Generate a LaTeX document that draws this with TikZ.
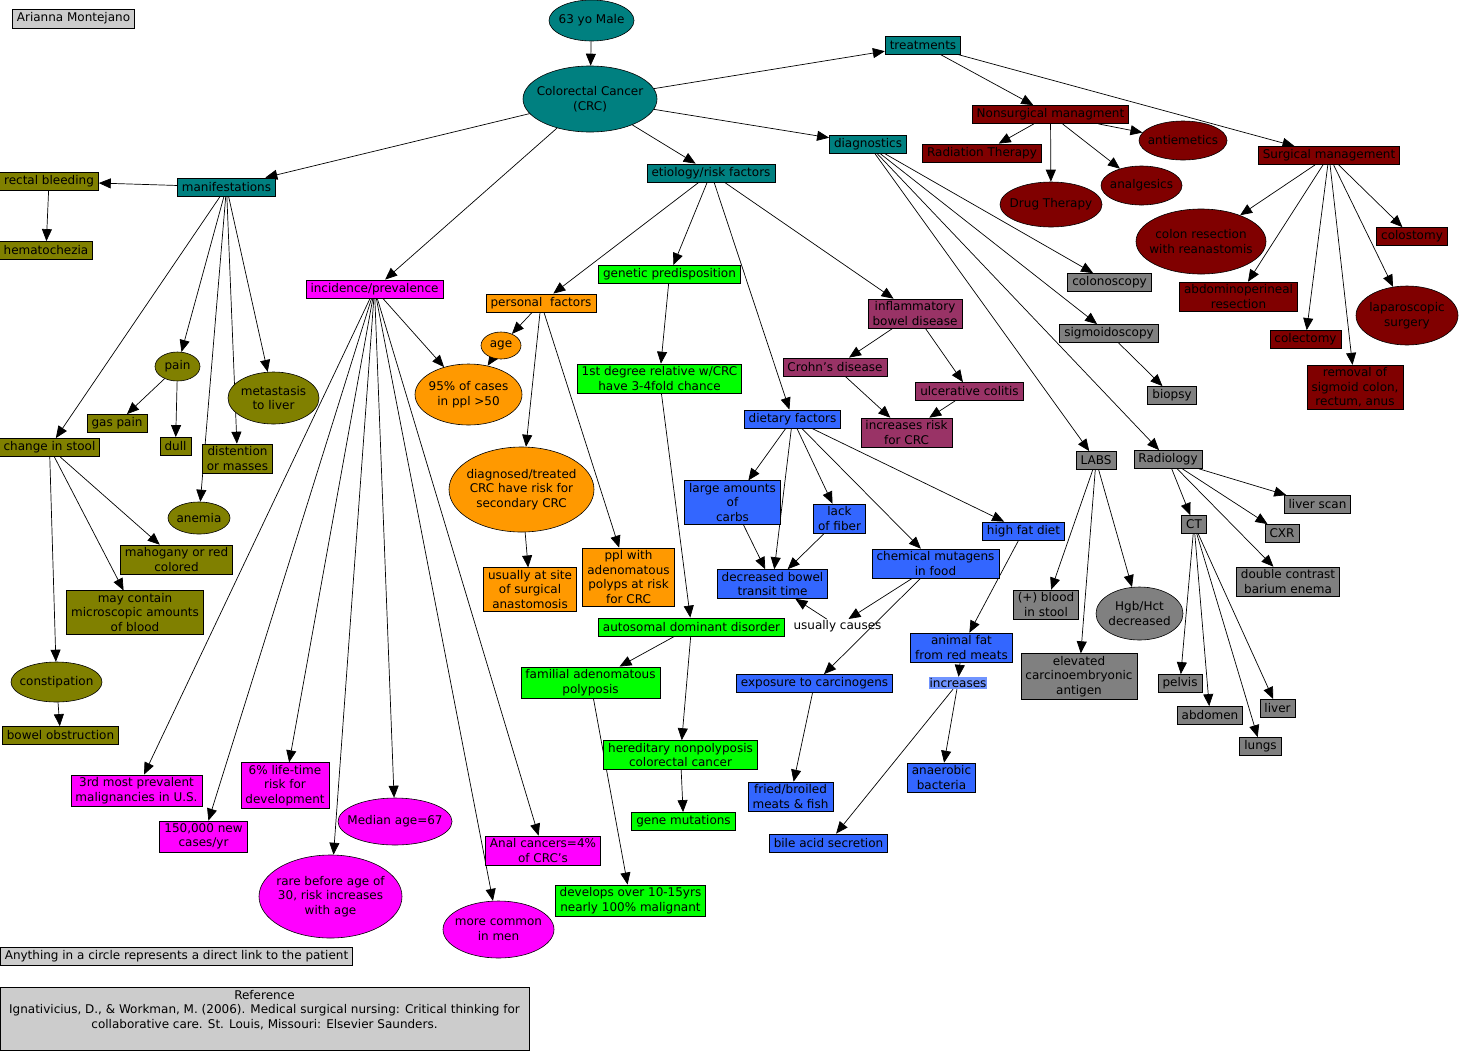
\documentclass[tikz,border=0pt]{standalone}
\usepackage{fontspec}
\setmainfont{DejaVu Sans}
\definecolor{cmteal}{RGB}{0,128,128}
\definecolor{cmolive}{RGB}{128,128,0}
\definecolor{cmmagenta}{RGB}{255,0,255}
\definecolor{cmorange}{RGB}{255,153,0}
\definecolor{cmgreen}{RGB}{0,255,0}
\definecolor{cmplum}{RGB}{153,51,102}
\definecolor{cmblue}{RGB}{51,102,255}
\definecolor{cmdarkred}{RGB}{128,0,0}
\definecolor{cmgray}{RGB}{128,128,128}
\definecolor{cmnote}{RGB}{204,204,204}
\usetikzlibrary{arrows.meta,shapes.geometric}
\pgfdeclarelayer{background}
\pgfsetlayers{background,main}

\tikzset{
  box/.style={draw=black, line width=0.8pt, rectangle, inner xsep=4.5pt, inner ysep=2.5pt,
    minimum height=18pt, align=center, font=\fontsize{12}{14.5}\selectfont},
  oval/.style={draw=black, line width=0.6pt, ellipse, inner sep=-10pt, align=center,
    font=\fontsize{12}{14.5}\selectfont},
  link/.style={-{Triangle[length=12pt,width=10pt]}, line width=0.7pt, black},
}

\begin{document}
\begin{tikzpicture}[x=1pt,y=-1pt]
  \useasboundingbox (0,0) rectangle (1461,1053);

  % Author and notes
  \node[box, fill=cmnote, minimum height=19pt] (author) at (73.5,18.5) {Arianna Montejano};
  \node[box, fill=cmnote, minimum height=18pt] (circnote) at (176.5,956) {Anything in a circle represents a direct link to the patient};
  \node[box, fill=cmnote, minimum width=529pt, minimum height=63pt] (refbox) at (264.5,1018.5) {};
  \node[anchor=north, align=center, inner sep=0pt, font=\fontsize{12}{14.5}\selectfont] (reftext) at ([yshift=-3.5pt]refbox.north)
    {Reference\\Ignativicius, D., \& Workman, M. (2006). Medical surgical nursing: Critical thinking for\\collaborative care. St. Louis, Missouri: Elsevier Saunders.};

  % Core
  \node[oval, fill=cmteal, minimum width=85pt, minimum height=41pt] (male) at (591.5,20.5) {63 yo Male};
  \node[oval, fill=cmteal, minimum width=134pt, minimum height=66pt] (crc) at (590,99) {Colorectal Cancer\\(CRC)};
  \node[box, fill=cmteal] (treat) at (923,45) {treatments};
  \node[box, fill=cmteal] (diag) at (868,144) {diagnostics};
  \node[box, fill=cmteal] (etio) at (711,173) {etiology/risk factors};
  \node[box, fill=cmteal] (manif) at (226.5,187) {manifestations};
  \node[box, fill=cmmagenta] (incid) at (374.5,289) {incidence/prevalence};

  % Manifestations
  \node[box, fill=cmolive] (rectal) at (49,181.5) {rectal bleeding};
  \node[box, fill=cmolive] (hemato) at (46,250.5) {hematochezia};
  \node[oval, fill=cmolive, minimum width=45pt, minimum height=29pt] (pain) at (177.5,366.5) {pain};
  \node[box, fill=cmolive] (gas) at (117,423.5) {gas pain};
  \node[box, fill=cmolive] (dull) at (175.5,446.5) {dull};
  \node[oval, fill=cmolive, minimum width=91pt, minimum height=52pt] (metast) at (273.5,398) {metastasis\\to liver};
  \node[box, fill=cmolive] (disten) at (237.5,458.5) {distention\\or masses};
  \node[oval, fill=cmolive, minimum width=62pt, minimum height=32pt] (anemia) at (199,518) {anemia};
  \node[box, fill=cmolive] (stool) at (49.5,447.5) {change in stool};
  \node[box, fill=cmolive] (mahog) at (176.5,559.5) {mahogany or red\\colored};
  \node[box, fill=cmolive] (micro) at (135,612.5) {may contain\\microscopic amounts\\of blood};
  \node[oval, fill=cmolive, minimum width=91pt, minimum height=40pt] (constip) at (56.5,682) {constipation};
  \node[box, fill=cmolive] (obstr) at (60.5,735.5) {bowel obstruction};

  % Incidence/prevalence
  \node[box, fill=cmmagenta] (third) at (136.5,790.5) {3rd most prevalent\\malignancies in U.S.};
  \node[box, fill=cmmagenta] (newcases) at (203.5,836.5) {150,000 new\\cases/yr};
  \node[box, fill=cmmagenta] (sixpct) at (285,785.5) {6\% life-time\\risk for\\development};
  \node[oval, fill=cmmagenta, minimum width=114pt, minimum height=47pt] (median) at (395,821.5) {Median age=67};
  \node[oval, fill=cmmagenta, minimum width=143pt, minimum height=83pt] (rare) at (330.5,896.5) {rare before age of\\30, risk increases\\with age};
  \node[box, fill=cmmagenta] (anal) at (543,850.5) {Anal cancers=4\%\\of CRC's};
  \node[oval, fill=cmmagenta, minimum width=111pt, minimum height=57pt] (men) at (498.5,929.5) {more common\\in men};

  % Personal factors
  \node[box, fill=cmorange] (personal) at (541,303) {personal~ factors};
  \node[oval, fill=cmorange, minimum width=40pt, minimum height=27pt] (age) at (501,345.5) {age};
  \node[oval, fill=cmorange, minimum width=107pt, minimum height=61pt] (ninety) at (468.5,394.5) {95\% of cases\\in ppl >50};
  \node[oval, fill=cmorange, minimum width=145pt, minimum height=85pt] (treated) at (521.5,489.5) {diagnosed/treated\\CRC have risk for\\secondary CRC};
  \node[box, fill=cmorange] (site) at (530,589.5) {usually at site\\of surgical\\anastomosis};
  \node[box, fill=cmorange] (polyps) at (628.5,577) {ppl with\\adenomatous\\polyps at risk\\for CRC};

  % Genetic predisposition
  \node[box, fill=cmgreen] (genetic) at (669.5,274.5) {genetic predisposition};
  \node[box, fill=cmgreen] (firstdeg) at (659.5,378.5) {1st degree relative w/CRC\\have 3-4fold chance};
  \node[box, fill=cmgreen] (autodom) at (691.5,627) {autosomal dominant disorder};
  \node[box, fill=cmgreen] (fap) at (590.5,682.5) {familial adenomatous\\polyposis};
  \node[box, fill=cmgreen] (hnpcc) at (680.5,755) {hereditary nonpolyposis\\colorectal cancer};
  \node[box, fill=cmgreen] (genemut) at (683.5,821.5) {gene mutations};
  \node[box, fill=cmgreen] (develops) at (630.5,900.5) {develops over 10-15yrs\\nearly 100\% malignant};

  % Inflammatory bowel disease
  \node[box, fill=cmplum] (ibd) at (915,313.5) {inflammatory\\bowel disease};
  \node[box, fill=cmplum] (crohn) at (835,367) {Crohn's disease};
  \node[box, fill=cmplum] (ulcer) at (969.5,391.5) {ulcerative colitis};
  \node[box, fill=cmplum] (incrisk) at (906.5,432.5) {increases risk\\for CRC};

  % Dietary factors
  \node[box, fill=cmblue] (dietary) at (792.5,419) {dietary factors};
  \node[box, fill=cmblue] (carbs) at (732.5,502.5) {large amounts\\of\\carbs};
  \node[box, fill=cmblue] (fiber) at (839.5,518.5) {lack\\of fiber};
  \node[box, fill=cmblue] (bowel) at (772.5,584) {decreased bowel\\transit time};
  \node[box, fill=cmblue] (mutagen) at (935.5,563.5) {chemical mutagens\\in food};
  \node[inner sep=1pt, font=\fontsize{12}{14.5}\selectfont] (causes) at (837.5,626) {usually causes};
  \node[box, fill=cmblue] (highfat) at (1023.5,531) {high fat diet};
  \node[box, fill=cmblue] (animal) at (961.5,647.5) {animal fat\\from red meats};
  \node[fill=cmblue!70!white, inner xsep=1pt, inner ysep=0.5pt, minimum height=12pt, font=\fontsize{12}{14.5}\selectfont] (incr) at (958,683) {increases};
  \node[box, fill=cmblue] (exposure) at (814.5,683.5) {exposure to carcinogens};
  \node[box, fill=cmblue] (fried) at (790.5,796.5) {fried/broiled\\meats \& fish};
  \node[box, fill=cmblue] (bile) at (828.5,843) {bile acid secretion};
  \node[box, fill=cmblue] (anaer) at (941.5,777.5) {anaerobic\\bacteria};

  % Treatments
  \node[box, fill=cmdarkred] (nonsurg) at (1050.5,114.5) {Nonsurgical managment};
  \node[box, fill=cmdarkred] (radiat) at (982,153) {Radiation Therapy};
  \node[oval, fill=cmdarkred, minimum width=88pt, minimum height=39pt] (antiem) at (1183,140.5) {antiemetics};
  \node[oval, fill=cmdarkred, minimum width=81pt, minimum height=39pt] (analg) at (1141.5,185.5) {analgesics};
  \node[oval, fill=cmdarkred, minimum width=102pt, minimum height=45pt] (drug) at (1051,204.5) {Drug Therapy};
  \node[box, fill=cmdarkred] (surg) at (1329,155.5) {Surgical management};
  \node[oval, fill=cmdarkred, minimum width=130pt, minimum height=65pt] (resect) at (1201,241.5) {colon resection\\with reanastomis};
  \node[box, fill=cmdarkred] (colost) at (1412,236.5) {colostomy};
  \node[box, fill=cmdarkred] (abdper) at (1238.5,296.5) {abdominoperineal\\resection};
  \node[oval, fill=cmdarkred, minimum width=102pt, minimum height=59pt] (lapar) at (1407,315.5) {laparoscopic\\surgery};
  \node[box, fill=cmdarkred] (colect) at (1305.5,339.5) {colectomy};
  \node[box, fill=cmdarkred] (sigrem) at (1355,387.5) {removal of\\sigmoid colon,\\rectum, anus};

  % Diagnostics
  \node[box, fill=cmgray] (colono) at (1109.5,282.5) {colonoscopy};
  \node[box, fill=cmgray] (sigmo) at (1109,333.5) {sigmoidoscopy};
  \node[box, fill=cmgray] (biopsy) at (1172,395.5) {biopsy};
  \node[box, fill=cmgray] (labs) at (1096,460.5) {LABS};
  \node[box, fill=cmgray] (radio) at (1168,459.5) {Radiology};
  \node[box, fill=cmgray] (livscan) at (1317.5,504.5) {liver scan};
  \node[box, fill=cmgray] (cxr) at (1282,533.5) {CXR};
  \node[box, fill=cmgray] (ct) at (1194,524.5) {CT};
  \node[box, fill=cmgray] (dcbe) at (1288,581.5) {double contrast\\barium enema};
  \node[box, fill=cmgray] (blood) at (1046,604.5) {(+) blood\\in stool};
  \node[oval, fill=cmgray, minimum width=87pt, minimum height=53pt] (hgb) at (1139.5,613.5) {Hgb/Hct\\decreased};
  \node[box, fill=cmgray] (cea) at (1079,676.5) {elevated\\carcinoembryonic\\antigen};
  \node[box, fill=cmgray] (pelvis) at (1180,683.5) {pelvis};
  \node[box, fill=cmgray] (abdom) at (1210,715.5) {abdomen};
  \node[box, fill=cmgray] (liver) at (1277.5,708.5) {liver};
  \node[box, fill=cmgray] (lungs) at (1260.5,746.5) {lungs};

  \begin{pgfonlayer}{background}
  % Core links
  \draw[link] (male) -- (crc);
  \draw[link] (crc) -- (treat);
  \draw[link] (crc) -- (diag);
  \draw[link] (crc) -- (etio);
  \draw[link] (crc) -- (manif);
  \draw[link] (crc) -- (incid);

  % Manifestations links
  \draw[link] (manif) -- (rectal);
  \draw[link] (rectal) -- (hemato);
  \draw[link] (manif) -- (stool);
  \draw[link] (manif) -- (pain);
  \draw[link] (manif) -- (anemia);
  \draw[link] (manif) -- (disten);
  \draw[link] (manif) -- (metast);
  \draw[link] (pain) -- (gas);
  \draw[link] (pain) -- (dull);
  \draw[link] (stool) -- (mahog);
  \draw[link] (stool) -- (micro);
  \draw[link] (stool) -- (constip);
  \draw[link] (constip) -- (obstr);

  % Incidence links
  \draw[link] (incid) -- (third);
  \draw[link] (incid) -- (newcases);
  \draw[link] (incid) -- (sixpct);
  \draw[link] (incid) -- (rare);
  \draw[link] (incid) -- (median);
  \draw[link] (incid) -- (men);
  \draw[link] (incid) -- (anal);
  \draw[link] (incid) -- (ninety);

  % Etiology links
  \draw[link] (etio) -- (personal);
  \draw[link] (etio) -- (genetic);
  \draw[link] (etio) -- (dietary);
  \draw[link] (etio) -- (ibd);
  \draw[link] (personal) -- (age);
  \draw[link] (age) -- (ninety);
  \draw[link] (personal) -- (treated);
  \draw[link] (personal) -- (polyps);
  \draw[link] (treated) -- (site);
  \draw[link] (genetic) -- (firstdeg);
  \draw[link] (firstdeg) -- (autodom);
  \draw[link] (autodom) -- (fap);
  \draw[link] (autodom) -- (hnpcc);
  \draw[link] (fap) -- (develops);
  \draw[link] (hnpcc) -- (genemut);
  \draw[link] (ibd) -- (crohn);
  \draw[link] (ibd) -- (ulcer);
  \draw[link] (crohn) -- (incrisk);
  \draw[link] (ulcer) -- (incrisk);

  % Dietary links
  \draw[link] (dietary) -- (carbs);
  \draw[link] (dietary) -- (bowel);
  \draw[link] (dietary) -- (fiber);
  \draw[link] (dietary) -- (mutagen);
  \draw[link] (dietary) -- (highfat);
  \draw[link] (carbs) -- (bowel);
  \draw[link] (fiber) -- (bowel);
  \draw[link] (mutagen) -- (causes);
  \draw[link] (causes) -- (bowel);
  \draw[link] (mutagen) -- (exposure);
  \draw[link] (exposure) -- (fried);
  \draw[link] (highfat) -- (animal);
  \draw[link] (animal) -- (incr);
  \draw[link] (incr) -- (anaer);
  \draw[link] (incr) -- (bile);

  % Treatment links
  \draw[link] (treat) -- (nonsurg);
  \draw[link] (treat) -- (surg);
  \draw[link] (nonsurg) -- (radiat);
  \draw[link] (nonsurg) -- (drug);
  \draw[link] (nonsurg) -- (analg);
  \draw[link] (nonsurg) -- (antiem);
  \draw[link] (surg) -- (resect);
  \draw[link] (surg) -- (abdper);
  \draw[link] (surg) -- (colect);
  \draw[link] (surg) -- (sigrem);
  \draw[link] (surg) -- (lapar);
  \draw[link] (surg) -- (colost);

  % Diagnostics links
  \draw[link] (diag) -- (colono);
  \draw[link] (diag) -- (sigmo);
  \draw[link] (diag) -- (labs);
  \draw[link] (diag) -- (radio);
  \draw[link] (sigmo) -- (biopsy);
  \draw[link] (labs) -- (blood);
  \draw[link] (labs) -- (cea);
  \draw[link] (labs) -- (hgb);
  \draw[link] (radio) -- (ct);
  \draw[link] (radio) -- (livscan);
  \draw[link] (radio) -- (cxr);
  \draw[link] (radio) -- (dcbe);
  \draw[link] (ct) -- (pelvis);
  \draw[link] (ct) -- (abdom);
  \draw[link] (ct) -- (lungs);
  \draw[link] (ct) -- (liver);
  \end{pgfonlayer}
\end{tikzpicture}
\end{document}
